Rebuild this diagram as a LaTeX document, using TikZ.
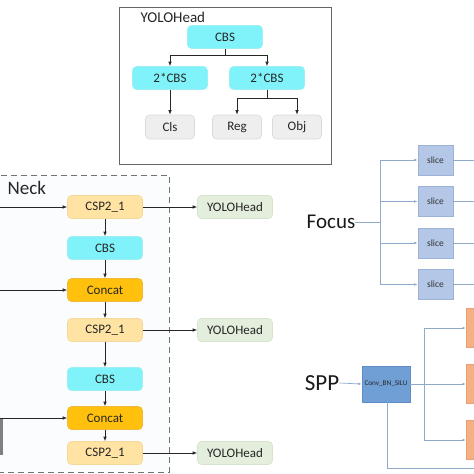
\documentclass[tikz,border=0pt]{standalone}
\usepackage{fontspec}
\setmainfont{Carlito}
\usetikzlibrary{arrows.meta}
\definecolor{cspc}{HTML}{FFE3A3}
\definecolor{cspd}{HTML}{F5D79A}
\definecolor{cbsc}{HTML}{7FF3F9}
\definecolor{cbsd}{HTML}{9EEFF3}
\definecolor{catc}{HTML}{FFC10E}
\definecolor{catd}{HTML}{F2B83A}
\definecolor{yhc}{HTML}{E3EEDC}
\definecolor{yhd}{HTML}{D6E4CE}
\definecolor{grc}{HTML}{EEEEEE}
\definecolor{grd}{HTML}{DADADA}
\definecolor{slc}{HTML}{B4C7E7}
\definecolor{sld}{HTML}{9CB2D8}
\definecolor{convc}{HTML}{709FD6}
\definecolor{convd}{HTML}{5D8CC6}
\definecolor{orc}{HTML}{F4B183}
\definecolor{ord}{HTML}{E8A06E}
\definecolor{bluel}{HTML}{8FAACB}
\definecolor{neckbg}{HTML}{FAFCFE}
\begin{document}
\begin{tikzpicture}[x=1pt,y=-1pt,
  base/.style={rounded corners=4pt, minimum width=75pt, minimum height=23pt, inner sep=0pt, line width=0.6pt, font=\fontsize{13}{14}\selectfont, text=black!85},
  csp/.style={base, fill=cspc, draw=cspd},
  cbs/.style={base, fill=cbsc, draw=cbsd},
  cat/.style={base, fill=catc, draw=catd},
  yh/.style={base, fill=yhc, draw=yhd},
  gr/.style={base, minimum width=49pt, minimum height=24pt, fill=grc, draw=grd},
  sl/.style={minimum width=35pt, minimum height=30pt, inner sep=0pt, fill=slc, draw=sld, line width=0.6pt, font=\fontsize{9.5}{10}\selectfont, text=black!80},
  orb/.style={minimum width=16pt, minimum height=39pt, inner sep=0pt, fill=orc, draw=ord, line width=0.6pt, anchor=west},
  arr/.style={-{Latex[length=4.5pt,width=3.5pt]}, line width=0.7pt, black!85},
  barr/.style={-{Latex[length=3.5pt,width=2.5pt]}, line width=0.7pt, bluel},
  bl/.style={line width=0.7pt, bluel}]
\useasboundingbox (0,0) rectangle (474,474);
% Neck container
\draw[dash pattern=on 6pt off 4pt, line width=0.9pt, black!55, fill=neckbg] (-5,175) rectangle (169,472);
\node[anchor=west, font=\fontsize{19}{20}\selectfont, text=black!85] (neck) at (4,188) {Neck};
% YOLOHead container
\draw[line width=0.9pt, black!60] (119,7) rectangle (331,164);
\node[anchor=west, font=\fontsize{15}{16}\selectfont, text=black!85] (yhl) at (137,17) {YOLOHead};
\node[cbs] (hc) at (225,37) {CBS};
\node[cbs] (h2a) at (170,78) {2*CBS};
\node[cbs] (h2b) at (267,78) {2*CBS};
\node[gr] (cls) at (170,127) {Cls};
\node[gr] (reg) at (237,127) {Reg};
\node[gr] (obj) at (297,127) {Obj};
\coordinate (j1) at (225,55);
\coordinate (j2) at (267,98);
\draw[line width=0.7pt, black!85] (hc.south) -- (j1);
\draw[arr] (j1) -| (h2a.north);
\draw[arr] (j1) -| (h2b.north);
\draw[arr] (h2a.south) -- (cls.north);
\draw[line width=0.7pt, black!85] (h2b.south) -- (j2);
\draw[arr] (j2) -| (reg.north);
\draw[arr] (j2) -| (obj.north);
% Neck nodes
\node[csp] (c1) at (105,207) {CSP2\_1};
\node[cbs] (b1) at (105,248) {CBS};
\node[cat] (k1) at (105,290) {Concat};
\node[csp] (c2) at (105,330) {CSP2\_1};
\node[cbs] (b2) at (105,379) {CBS};
\node[cat] (k2) at (105,418) {Concat};
\node[csp] (c3) at (105,453) {CSP2\_1};
\node[yh] (y1) at (235,207) {YOLOHead};
\node[yh] (y2) at (235,330) {YOLOHead};
\node[yh] (y3) at (235,453) {YOLOHead};
\coordinate (in1) at (-2,207);
\coordinate (in2) at (-2,290);
\coordinate (in3a) at (1.5,455);
\coordinate (in3) at (1.5,418);
\draw[arr] (in1) -- (c1.west);
\draw[arr] (in2) -- (k1.west);
\draw[line width=2.4pt, black!50] (in3a) -- (in3);
\draw[arr] (0.4,418) -- (k2.west);
\draw[arr] (c1) -- (b1);
\draw[arr] (b1) -- (k1);
\draw[arr] (k1) -- (c2);
\draw[arr] (c2) -- (b2);
\draw[arr] (b2) -- (k2);
\draw[arr] (k2) -- (c3);
\draw[arr] (c1) -- (y1);
\draw[arr] (c2) -- (y2);
\draw[arr] (c3) -- (y3);
% Focus
\node[font=\fontsize{21}{22}\selectfont, inner sep=0pt, text=black!90] (focus) at (331,222) {Focus};
\coordinate (fj) at (380,222);
\node[sl] (s1) at (435.5,160) {slice};
\node[sl] (s2) at (435.5,201.5) {slice};
\node[sl] (s3) at (435.5,243) {slice};
\node[sl] (s4) at (435.5,284.5) {slice};
\draw[bl] (focus.east) -- (fj);
\draw[bl] (380,160) -- (380,284.5);
\draw[barr] (380,160) -- (s1.west);
\draw[barr] (380,201.5) -- (s2.west);
\draw[barr] (380,243) -- (s3.west);
\draw[barr] (380,284.5) -- (s4.west);
\coordinate (o1) at (480,160);
\coordinate (o2) at (480,201.5);
\coordinate (o3) at (480,243);
\coordinate (o4) at (480,284.5);
\draw[bl] (s1.east) -- (o1);
\draw[bl] (s2.east) -- (o2);
\draw[bl] (s3.east) -- (o3);
\draw[bl] (s4.east) -- (o4);
% SPP
\node[font=\fontsize{23}{24}\selectfont, inner sep=0pt, text=black!90] (spp) at (322,383) {SPP};
\node[minimum width=48pt, minimum height=36pt, inner sep=0pt, fill=convc, draw=convd, line width=0.6pt, font=\fontsize{7.2}{8}\selectfont, text=black!85] (conv) at (386,384) {Conv\_BN\_SILU};
\node[orb] (p1) at (466,328) {};
\node[orb] (p2) at (466,384) {};
\node[orb] (p3) at (466,440) {};
\draw[barr] (spp.east) -- (conv.west);
\draw[barr] (conv.east) -- (p2.west);
\draw[bl] (424,384) -- (424,328);
\draw[bl] (424,384) -- (424,440);
\draw[barr] (424,328) -- (p1.west);
\draw[barr] (424,440) -- (p3.west);
\coordinate (pb) at (480,468);
\draw[bl] (conv.south -| 387,0) -- (387,468) -- (pb);
\end{tikzpicture}
\end{document}
